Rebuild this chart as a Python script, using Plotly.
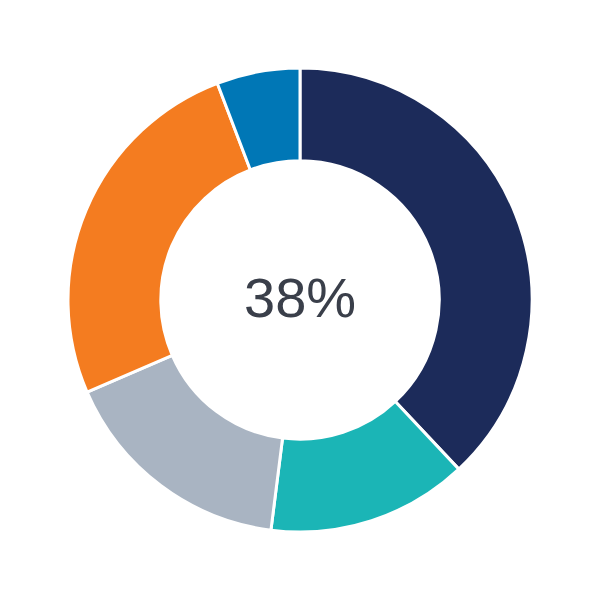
import plotly.graph_objects as go

# slice shares, clockwise from 12 o'clock
labels = ['Navy', 'Teal', 'Gray', 'Orange', 'Blue']
values = [38, 14, 16.5, 25.7, 5.8]
colors = ['#1c2b5a', '#1bb5b6', '#a9b4c2', '#f47c20', '#0077b6']
center_text = '38%'

fig = go.Figure()

fig.add_trace(go.Pie(
    labels=labels,
    values=values,
    hole=0.6,
    sort=False,
    direction='clockwise',
    rotation=0,
    textinfo='none',
    hoverinfo='label+percent',
    marker=dict(colors=colors, line=dict(color='white', width=3)),
))

fig.add_annotation(
    text=center_text, x=0.5, y=0.505, xref='paper', yref='paper',
    showarrow=False, font=dict(family='Liberation Sans, Arial', size=56, color='#3a3f4a'),
)

# page body adds an 8px offset, so margins are shifted to keep the ring centred
fig.update_layout(
    width=600, height=600,
    margin=dict(l=60, r=76, t=60, b=76),
    showlegend=False,
    paper_bgcolor='white',
    plot_bgcolor='white',
)

fig.write_html('out.html')
